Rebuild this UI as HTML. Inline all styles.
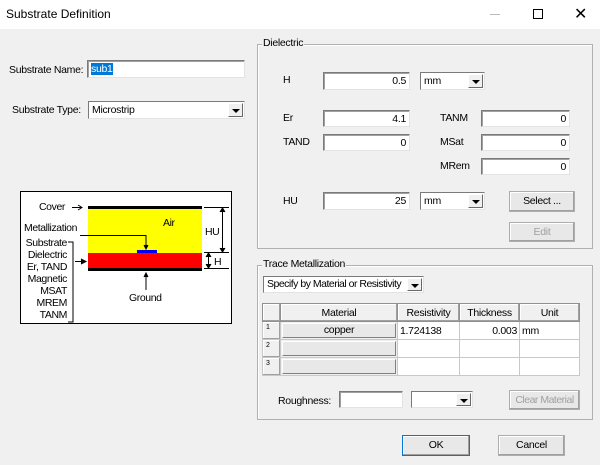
<!DOCTYPE html>
<html><head><meta charset="utf-8"><style>
*{box-sizing:border-box;margin:0;padding:0}
body{width:600px;height:465px;background:#f0f0f0;position:relative;overflow:hidden;font-family:"Liberation Sans",Arial,sans-serif;font-size:10.5px;letter-spacing:-0.3px;color:#000}
div,td,th{white-space:nowrap;overflow:hidden}
.a{position:absolute;white-space:nowrap;overflow:visible}
.in{position:absolute;background:#fff;border:1px solid #7a7a7a;border-right-color:#e3e3e3;border-bottom-color:#e3e3e3;box-shadow:inset 1px 1px 0 #a0a0a0;text-align:right;padding:2px 3px 0 3px}
.sel{position:absolute;background:#fff;border:1px solid #7a7a7a;border-right-color:#e3e3e3;border-bottom-color:#e3e3e3;padding:2px 3px}
.sel .dd{position:absolute;right:1px;top:1px;bottom:1px;width:15px;background:#f0f0f0;border:1px solid #fff;border-right-color:#696969;border-bottom-color:#696969}
.sel .dd:after{content:"";position:absolute;left:3px;top:5px;border-left:4px solid transparent;border-right:4px solid transparent;border-top:4px solid #000}
.btn{position:absolute;background:#e8e8e8;border:1px solid #adadad;box-shadow:inset -1px -1px 0 #a0a0a0,inset 1px 1px 0 #fff;text-align:center}
.grp{position:absolute;border:1px solid #b0b0b0;box-shadow:1px 1px 0 #fff inset}
.leg{position:absolute;background:#f0f0f0;padding:0 1px;overflow:visible}
table{border-collapse:collapse;position:absolute;left:262px;top:303px;width:318px;table-layout:fixed}
td{border:1px solid #c8c8c8;height:18px;background:#fff;padding:0 2px}
th{border:1px solid #909090;background:#f0f0f0;font-weight:normal;height:18px;box-shadow:inset -1px -1px 0 #a0a0a0,inset 1px 1px 0 #fff}
td.rn{background:#f0f0f0;font-size:7px;vertical-align:top;padding:2px 3px;box-shadow:inset -1px -1px 0 #a0a0a0,inset 1px 1px 0 #fff}
td.mb{background:#f0f0f0;padding:1px}
.mb div{height:15px;border:1px solid #fff;border-right-color:#808080;border-bottom-color:#808080;background:#e8e8e8;text-align:center;line-height:13px}
</style></head><body>
<div class="a" style="left:0;top:0;width:600px;height:29px;background:#fff"></div>
<div class="a" style="left:6px;top:7px;font-size:12px;letter-spacing:0">Substrate Definition</div>
<div class="a" style="left:490px;top:14px;width:10px;height:1px;background:#bbb"></div>
<div class="a" style="left:533px;top:9px;width:10px;height:10px;border:1px solid #000"></div>
<div class="a" style="left:574px;top:4px;font-size:16px">✕</div>

<div class="a" style="left:9px;top:64px">Substrate Name:</div>
<div class="in" style="left:87px;top:60px;width:158px;height:18px;text-align:left"><span style="background:#0078d7;color:#fff">sub1</span></div>
<div class="a" style="left:12px;top:104px">Substrate Type:</div>
<div class="sel" style="left:88px;top:101px;width:157px;height:18px">Microstrip<div class="dd"></div></div>

<div class="a" style="left:20px;top:191px;width:212px;height:133px;background:#fff;border:1px solid #000"></div>
<div class="a" style="left:88px;top:206px;width:114px;height:3px;background:#000"></div>
<div class="a" style="left:88px;top:209px;width:114px;height:44px;background:#ff0"></div>
<div class="a" style="left:88px;top:253px;width:114px;height:15px;background:#f00"></div>
<div class="a" style="left:88px;top:268px;width:114px;height:3px;background:#000"></div>
<div class="a" style="left:137px;top:250px;width:20px;height:3px;background:#00f"></div>
<svg class="a" style="left:0;top:0" width="260" height="330">
<g stroke="#000" fill="none" stroke-width="1">
<line x1="72" y1="207.5" x2="82" y2="207.5"/><path d="M78 205 L82 207.5 L78 210"/>
<polyline points="80,235.5 146,235.5 146,248"/><path d="M144 245 L146 249 L148 245" fill="#000"/>
<polyline points="68,242 73,242 73,322 68,322"/>
<line x1="75" y1="261.5" x2="85" y2="261.5"/><path d="M81 259 L86 261.5 L81 264" fill="#000"/>
<line x1="146" y1="290" x2="146" y2="274"/><path d="M144 277 L146 273 L148 277" fill="#000"/>
<line x1="204" y1="207.5" x2="229" y2="207.5"/><line x1="204" y1="252.5" x2="229" y2="252.5"/><line x1="204" y1="268.5" x2="229" y2="268.5"/>
<line x1="222.5" y1="209" x2="222.5" y2="251"/><path d="M220 212 L222.5 208 L225 212 M220 248 L222.5 252 L225 248" fill="#000"/>
<line x1="208.5" y1="254" x2="208.5" y2="267"/><path d="M206 257 L208.5 253 L211 257 M206 264 L208.5 268 L211 264" fill="#000"/>
</g>
<g font-family="Liberation Sans,Arial,sans-serif" font-size="10.5" letter-spacing="-0.4" fill="#000">
<text x="39" y="210">Cover</text>
<text x="24" y="231" textLength="53" lengthAdjust="spacingAndGlyphs">Metallization</text>
<text x="163" y="226">Air</text>
<text x="205" y="235">HU</text>
<text x="214" y="265">H</text>
<text x="129" y="301">Ground</text>
<g text-anchor="end"><text x="67" y="246">Substrate</text><text x="67" y="258">Dielectric</text><text x="67" y="270">Er, TAND</text><text x="67" y="282">Magnetic</text><text x="67" y="294">MSAT</text><text x="67" y="306">MREM</text><text x="67" y="318">TANM</text></g>
</g></svg>

<div class="grp" style="left:257px;top:44px;width:336px;height:205px"></div>
<div class="leg" style="left:262px;top:37px">Dielectric</div>
<div class="a" style="left:283px;top:74px">H</div>
<div class="in" style="left:323px;top:72px;width:87px;height:18px">0.5</div>
<div class="sel" style="left:420px;top:72px;width:65px;height:18px">mm<div class="dd"></div></div>
<div class="a" style="left:283px;top:112px">Er</div>
<div class="in" style="left:323px;top:110px;width:87px;height:17px">4.1</div>
<div class="a" style="left:283px;top:136px">TAND</div>
<div class="in" style="left:323px;top:134px;width:87px;height:17px">0</div>
<div class="a" style="left:440px;top:112px">TANM</div>
<div class="in" style="left:481px;top:110px;width:89px;height:17px">0</div>
<div class="a" style="left:440px;top:136px">MSat</div>
<div class="in" style="left:481px;top:134px;width:89px;height:17px">0</div>
<div class="a" style="left:440px;top:160px">MRem</div>
<div class="in" style="left:481px;top:158px;width:89px;height:17px">0</div>
<div class="a" style="left:283px;top:195px">HU</div>
<div class="in" style="left:323px;top:192px;width:87px;height:18px">25</div>
<div class="sel" style="left:420px;top:192px;width:65px;height:18px">mm<div class="dd"></div></div>
<div class="btn" style="left:509px;top:191px;width:66px;height:21px;line-height:19px">Select ...</div>
<div class="btn" style="left:509px;top:222px;width:66px;height:20px;line-height:18px;color:#a0a0a0">Edit</div>

<div class="grp" style="left:257px;top:265px;width:336px;height:155px"></div>
<div class="leg" style="left:262px;top:258px">Trace Metallization</div>
<div class="sel" style="left:263px;top:276px;width:161px;height:17px;padding-top:1px;letter-spacing:-0.5px">Specify by Material or Resistivity<div class="dd"></div></div>
<table>
<colgroup><col style="width:18px"><col style="width:117px"><col style="width:62px"><col style="width:60px"><col></colgroup>
<tr><th></th><th>Material</th><th>Resistivity</th><th>Thickness</th><th>Unit</th></tr>
<tr><td class="rn">1</td><td class="mb"><div>copper</div></td><td>1.724138</td><td style="text-align:right">0.003</td><td>mm</td></tr>
<tr><td class="rn">2</td><td class="mb"><div></div></td><td></td><td></td><td></td></tr>
<tr><td class="rn">3</td><td class="mb"><div></div></td><td></td><td></td><td></td></tr>
</table>
<div class="a" style="left:278px;top:395px">Roughness:</div>
<div class="in" style="left:339px;top:391px;width:64px;height:17px"></div>
<div class="sel" style="left:411px;top:391px;width:62px;height:17px"><div class="dd"></div></div>
<div class="btn" style="left:509px;top:390px;width:71px;height:20px;line-height:18px;color:#a0a0a0;letter-spacing:-0.5px">Clear Material</div>

<div class="btn" style="left:402px;top:435px;width:68px;height:21px;line-height:19px;border-color:#0078d7">OK</div>
<div class="btn" style="left:498px;top:435px;width:67px;height:21px;line-height:19px">Cancel</div>
</body></html>
